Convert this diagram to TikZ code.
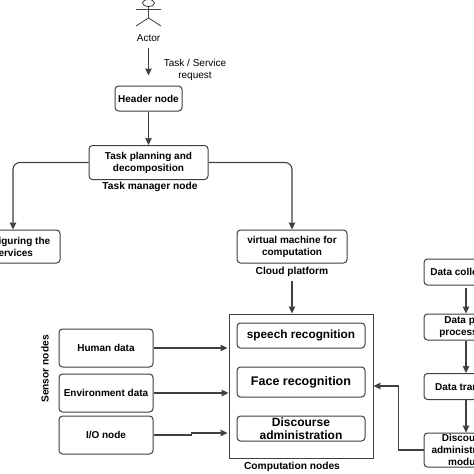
\documentclass[tikz,border=0pt]{standalone}
\usepackage{fontspec}
\setmainfont{Liberation Sans}
\usetikzlibrary{arrows.meta,positioning,calc}

\tikzset{
  box/.style={draw=black!75,line width=1pt,rounded corners=3.5pt,align=center,inner sep=0pt,font=\fontsize{10}{12}\selectfont\bfseries},
  inbox/.style={box,minimum width=128pt},
  sidebox/.style={box,minimum width=84pt},
  sensorbox/.style={box,minimum width=94pt,minimum height=38pt},
  caption/.style={align=center,inner sep=0pt,font=\fontsize{10.2}{12}\selectfont\bfseries},
  plain/.style={align=center,inner sep=0pt,font=\fontsize{10}{12}\selectfont},
  link/.style={draw=black!75,line width=1.1pt,-{Stealth[length=7pt,width=6.5pt,inset=0.5pt]}}
}

\begin{document}
\begin{tikzpicture}[x=1pt,y=-1pt]
\clip (0,0) rectangle (474,474);
\fill[white] (0,0) rectangle (474,474);
% actor
\draw[black!75,line width=0.8pt] (148.5,3) ellipse (6 and 3.5);
\draw[black!75,line width=0.8pt] (148.5,6.5) -- (148.5,18) (136,9.5) -- (161,9.5) (136,26) -- (148.5,18) -- (161,26);
\node[plain] (actor) at (148.5,38) {Actor};
\node[plain] (request) at (195,69.5) {Task / Service\\request};
% top part
\node[box,minimum width=67pt,minimum height=25pt] (header) at (148.5,98.5) {Header node};
\node[box,minimum width=119pt,minimum height=34pt] (task) at (148.5,162.5) {Task planning and\\decomposition};
\node[caption] (manager) at (150,187) {Task manager node};
\node[box,minimum width=94pt,minimum height=33pt] (config) at (13,246.5) {Configuring the\\services};
\node[box,minimum width=110pt,minimum height=33pt] (vm) at (292,246.5) {virtual machine for\\computation};
\node[caption] (cloud) at (292,272) {Cloud platform};
% computation nodes
\node[draw=black!75,line width=1pt,minimum width=144pt,minimum height=144pt,inner sep=0pt] (comp) at (301,386) {};
\node[inbox,minimum height=25pt,font=\fontsize{11.8}{13}\selectfont\bfseries] (speech) at (301,335.5) {speech recognition};
\node[inbox,minimum height=30pt,font=\fontsize{12.5}{14}\selectfont\bfseries] (face) at (301,382) {Face recognition};
\node[inbox,minimum height=25pt,font=\fontsize{12}{13.5}\selectfont\bfseries] (discourse) at (301,428.5) {Discourse\\administration};
\node[caption] (complabel) at (292,467) {Computation nodes};
% sensor nodes
\node[sensorbox] (human) at (106,348) {Human data};
\node[sensorbox] (env) at (106,393) {Environment data};
\node[sensorbox] (io) at (106,435) {I/O node};
\node[caption,rotate=90] (sensor) at (45,369) {Sensor nodes};
% right column
\node[sidebox,minimum height=26pt] (collect) at (466,272) {Data collection};
\node[sidebox,minimum height=26pt] (pre) at (466,327) {Data pre-\\processing};
\node[sidebox,minimum height=26pt] (transfer) at (466,386.5) {Data transfer};
\node[sidebox,minimum height=34pt] (admin) at (466,450) {Discourse\\administration\\module};
% arrows
\draw[link,shorten <=6pt] (actor.south) -- ($(header.north)+(0,-10)$);
\draw[link] (header) -- (task);
\draw[link,rounded corners=7pt] (task.west) -| (config.north);
\draw[link,rounded corners=7pt] (task.east) -| (vm.north);
\draw[link,shorten <=4pt] (cloud.south) -- (cloud.south |- comp.north);
\draw[link] (human.east) -- ($(human.east)+(74,0)$);
\draw[link] (env.east) -- (env.east -| comp.west);
\draw[link] (io.east) -- ($(io.east)+(38,0)$) -- ($(io.east)+(38,-2)$) -- ($(io.east)+(74,-2)$);
\draw[link,shorten <=2pt] (collect) -- (pre);
\draw[link] (pre) -- (transfer);
\draw[link] (transfer) -- (admin);
\draw[link] (admin.west) -- ($(admin.west)+(-25,0)$) |- (comp.east);
\end{tikzpicture}
\end{document}
